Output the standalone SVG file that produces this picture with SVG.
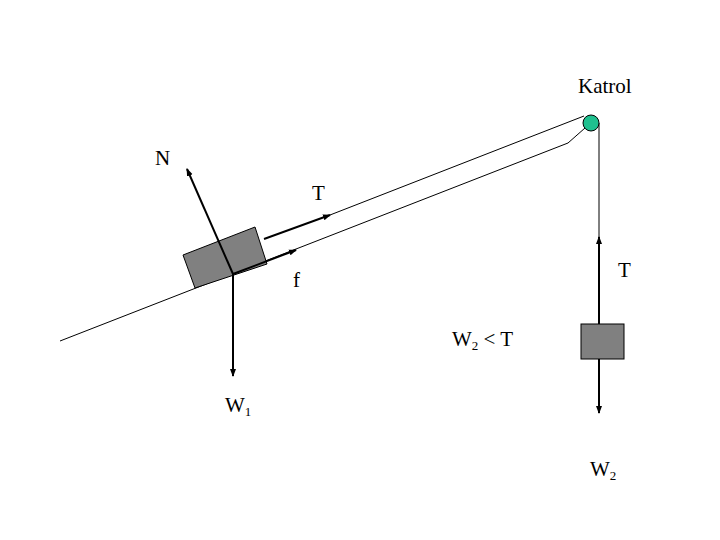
<svg xmlns="http://www.w3.org/2000/svg" width="720" height="540" viewBox="0 0 720 540">
<style>
text{font-family:"Liberation Serif",serif;font-size:21px;fill:#000}
.s{font-size:13px}
.t{stroke:#000;stroke-width:1;fill:none}
.a{stroke:#000;stroke-width:2;fill:none;marker-end:url(#ah)}
.b{fill:#808080;stroke:#000;stroke-width:1}
</style>
<defs><marker id="ah" markerWidth="8" markerHeight="8" refX="7" refY="4" orient="auto" markerUnits="userSpaceOnUse"><path d="M0,1 L8,4 L0,7 Z" fill="#000"/></marker></defs>
<rect width="720" height="540" fill="#fff"/>
<g id="connectors">
<polyline class="t" points="60,341 568,143 585,128"/>
<line class="t" x1="330" y1="215" x2="584" y2="116"/>
<line class="t" x1="599" y1="123" x2="599" y2="324"/>
</g>
<g id="block1"><polygon class="b" points="183,255 255,227 267,264 195,288"/></g>
<g id="forces">
<line class="a" x1="233" y1="274" x2="187" y2="169"/>
<line class="a" x1="233" y1="274" x2="233" y2="376"/>
<line class="a" x1="264" y1="239" x2="330" y2="215"/>
<line class="a" x1="233" y1="274" x2="296" y2="250"/>
<line class="a" x1="599" y1="324" x2="599" y2="237"/>
<line class="a" x1="599" y1="359" x2="599" y2="413"/>
</g>
<g id="pulley"><circle cx="591" cy="123" r="8" fill="#1fc08f" stroke="#000" stroke-width="1"/></g>
<g id="block2"><rect class="b" x="581" y="324" width="43" height="35"/></g>
<g id="labels">
<text x="578" y="93">Katrol</text>
<text x="155" y="165">N</text>
<text x="312" y="200">T</text>
<text x="293" y="287">f</text>
<text x="618" y="277">T</text>
<text x="452" y="346">W<tspan class="s" dy="4">2</tspan><tspan dy="-4"> &lt; T</tspan></text>
<text x="225" y="412">W<tspan class="s" dy="4">1</tspan></text>
<text x="590" y="476">W<tspan class="s" dy="4">2</tspan></text>
</g>
</svg>
